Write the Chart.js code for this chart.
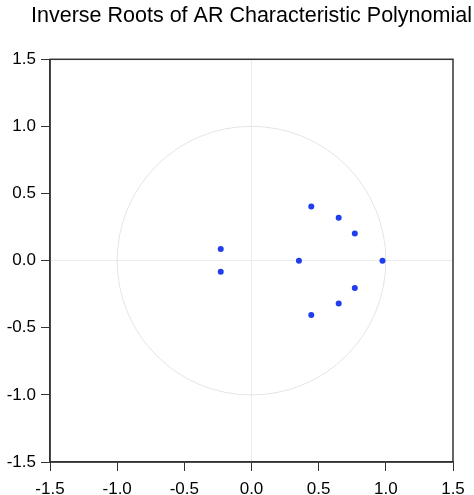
<!DOCTYPE html>
<html>
<head>
<meta charset="utf-8">
<script src="https://cdn.jsdelivr.net/npm/chart.js"></script>
<style>
  html, body { margin: 0; padding: 0; background: #fff; }
  #wrap { width: 474px; height: 495px; position: relative; }
</style>
</head>
<body>
<div id="wrap"><canvas id="rootsChart"></canvas></div>
<script>
// inverse roots, real and imaginary parts
const rootsRe = [0.975, 0.769, 0.649, 0.445, 0.353, -0.229, -0.229, 0.445, 0.649, 0.769];
const rootsIm = [0.0, 0.203, 0.319, 0.404, 0.0, 0.086, -0.083, -0.404, -0.319, -0.203];
const tickValues = [-1.5, -1.0, -0.5, 0.0, 0.5, 1.0, 1.5];
const chartTitle = "Inverse Roots of AR Characteristic Polynomial";

const points = rootsRe.map((re, i) => ({ x: re, y: rootsIm[i] }));

// unit circle, closed frame and the title (drawn by hand so it isn't squeezed)
const framePlugin = {
  id: "frame",
  beforeDatasetsDraw(chart) {
    const ctx = chart.ctx;
    const xs = chart.scales.x;
    const ys = chart.scales.y;
    const cx = xs.getPixelForValue(0);
    const cy = ys.getPixelForValue(0);
    const r = xs.getPixelForValue(1) - cx;
    ctx.save();
    ctx.strokeStyle = "#e4e4e4";
    ctx.lineWidth = 1;
    ctx.beginPath();
    ctx.arc(cx, cy, r, 0, Math.PI * 2);
    ctx.stroke();
    ctx.restore();
  },
  afterDraw(chart) {
    const ctx = chart.ctx;
    const a = chart.chartArea;
    ctx.save();
    ctx.strokeStyle = "#333";
    ctx.lineWidth = 1.5;
    ctx.strokeRect(a.left, a.top, a.right - a.left, a.bottom - a.top);

    ctx.fillStyle = "#000";
    ctx.font = "21.5px 'Liberation Sans', Arial, sans-serif";
    ctx.textAlign = "center";
    ctx.textBaseline = "alphabetic";
    ctx.fillText(chartTitle, (a.left + a.right) / 2, 22);
    ctx.restore();
  }
};

function gridColor(c) {
  return c.tick && c.tick.value === 0 ? "#ececec" : "rgba(0,0,0,0)";
}

const tickFont = { family: "'Liberation Sans', Arial, sans-serif", size: 17 };

const axis = (pad, extra) => Object.assign({
  type: "linear",
  min: -1.5,
  max: 1.5,
  afterBuildTicks(scale) {
    scale.ticks = tickValues.map(v => ({ value: v }));
  },
  ticks: {
    color: "#000",
    font: tickFont,
    padding: pad,
    callback: v => Number(v).toFixed(1)
  },
  grid: {
    color: gridColor,
    tickColor: "#333",
    tickLength: 9,
    lineWidth: 1
  },
  border: { display: true, color: "#333", width: 1.5 }
}, extra);

new Chart(document.getElementById("rootsChart"), {
  type: "scatter",
  data: {
    datasets: [{
      data: points,
      backgroundColor: "rgb(32,62,238)",
      borderWidth: 0,
      pointRadius: 3,
      pointHoverRadius: 3
    }]
  },
  options: {
    responsive: true,
    maintainAspectRatio: false,
    animation: false,
    layout: { padding: { top: 59.3, left: 0, right: 21, bottom: 0 } },
    plugins: {
      legend: { display: false },
      tooltip: { enabled: false },
      title: { display: false }
    },
    scales: {
      x: axis(8, {
        afterFit(scale) { scale.height = 33; }
      }),
      y: axis(5, {
        afterFit(scale) { scale.width = 50; }
      })
    }
  },
  plugins: [framePlugin]
});
</script>
</body>
</html>
